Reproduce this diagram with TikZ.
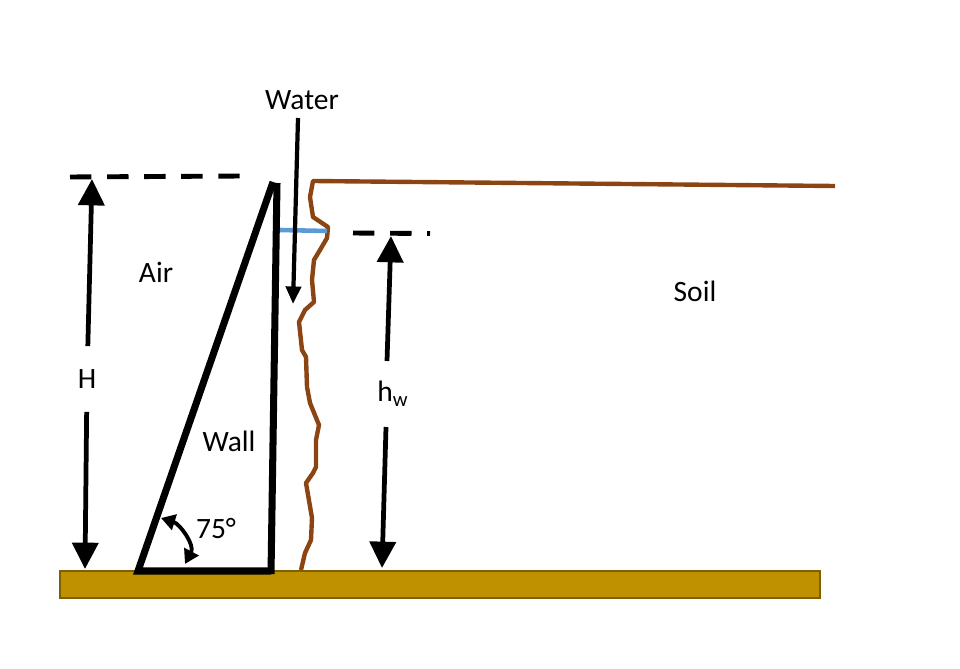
\documentclass[tikz,border=0pt]{standalone}
\usepackage{fontspec}
\setmainfont{Carlito}
\usetikzlibrary{arrows.meta}

\begin{document}
\begin{tikzpicture}[x=0.02cm,y=-0.02cm,cap=butt]
  % Colors
  \definecolor{soilcolor}{HTML}{8B4513}
  \definecolor{groundcolor}{HTML}{BF9000}
  \definecolor{groundedge}{HTML}{7F6000}
  \definecolor{watercolor}{HTML}{5B9BD5}

  % Styles
  \tikzstyle{label text}=[font=\fontsize{16.8}{20}\selectfont,inner sep=0pt]
  \tikzstyle{dim label}=[label text,fill=white,minimum width=24pt]
  \tikzstyle{dim line}=[line width=2.7pt,-{Triangle[length=15pt,width=14.7pt]}]
  \tikzstyle{level line}=[line width=2.8pt,dash pattern=on 12.2pt off 8.9pt]
  \tikzstyle{wall line}=[line width=4pt,line join=miter]
  \tikzstyle{soil line}=[line width=2.5pt,soilcolor,line join=round]

  \useasboundingbox (0,0) rectangle (960,669);

  % Ground
  \node[draw=groundedge,fill=groundcolor,line width=1pt,inner sep=0pt,
    minimum width=760*0.02cm,minimum height=27*0.02cm] (ground) at (440,584.5) {};

  % The wall
  \coordinate (walltop) at (273,182);
  \coordinate (wallhead) at (277,183);
  \coordinate (wallleft) at (138,571);
  \coordinate (wallright) at (271,571);
  \coordinate (wallfoot) at (271,574);
  \draw[wall line] (walltop) -- (wallleft) -- (wallright);
  \draw[wall line] (wallhead) -- (wallfoot);

  % Soil face
  \coordinate (soilend) at (835,186);
  \coordinate (soiltop) at (313,181);
  \draw[soil line] (soilend) -- (soiltop) -- (310,197) -- (313,217) -- (328,227)
    -- (327,238) -- (320,250) -- (314,260) -- (312,280) -- (314,302) -- (305,310)
    -- (299,322) -- (302,350) -- (306,357) -- (307,387) -- (310,403) -- (319,425)
    -- (316,440) -- (316,467) -- (313,473) -- (306,483) -- (312,518) -- (311,540)
    -- (305,553) -- (301,570);

  % Water level
  \coordinate (wallface) at (280,230);
  \coordinate (soilface) at (327,231);
  \draw[watercolor,line width=2.6pt] (wallface) -- (soilface);

  % Levels
  \coordinate (topa) at (70,177);
  \coordinate (topb) at (241,176);
  \coordinate (wata) at (353,233);
  \coordinate (watb) at (430,233.5);
  \draw[level line] (topa) -- (topb);
  \draw[level line] (wata) -- (watb);

  % Water arrow
  \node[label text] (water) at (302,100) {Water};
  \coordinate (waterstart) at (298,118);
  \coordinate (waterend) at (293,304);
  \draw[line width=2.4pt,-{Triangle[length=10pt,width=8.5pt]}] (waterstart) -- (waterend);

  % Heights
  \node[dim label,minimum height=65*0.02cm] (H) at (87,379) {H};
  \coordinate (Htop) at (92,179);
  \coordinate (Hbot) at (85,569);
  \draw[dim line] (H) -- (Htop);
  \draw[dim line] (H) -- (Hbot);

  \node[dim label,minimum height=65*0.02cm] (hw) at (393,394) {h\textsubscript{w}};
  \coordinate (hwtop) at (391,236);
  \coordinate (hwbot) at (382,568);
  \draw[dim line] (387,361) -- (hwtop);
  \draw[dim line] (386,427) -- (hwbot);

  % Angle
  \coordinate (anglea) at (161,518);
  \coordinate (angleb) at (185,564);
  \draw[line width=2.2pt,{Triangle[length=8pt,width=9pt]}-{Triangle[length=8pt,width=9pt]}]
    (anglea) .. controls (180,524) and (195,545) .. (angleb);
  \node[label text] (angle) at (216,529) {75°};

  % Labels
  \node[label text] (air) at (156,272) {Air};
  \node[label text] (wall) at (229,441) {Wall};
  \node[label text] (soil) at (695,291) {Soil};
\end{tikzpicture}
\end{document}
